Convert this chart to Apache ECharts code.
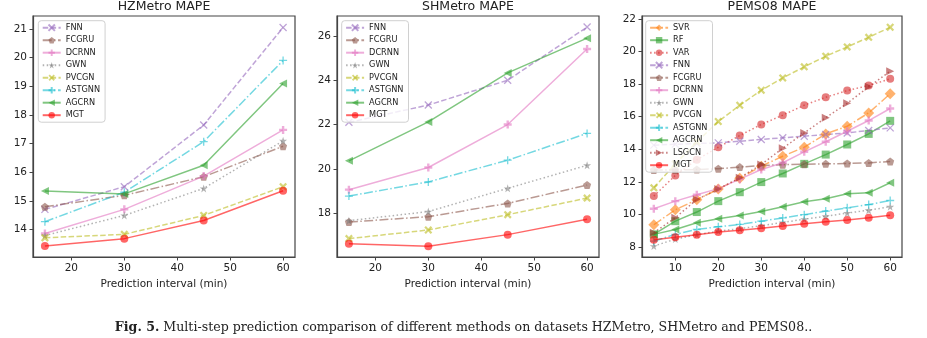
<!DOCTYPE html>
<html><head><meta charset="utf-8">
<script src="https://cdn.jsdelivr.net/npm/echarts@6/dist/echarts.min.js"></script>
<style>html,body{margin:0;padding:0;background:#fff}#c{width:927px;height:338px}</style>
</head><body><div id="c"></div>
<script>
// ---------- data ----------
const metroX = [15, 30, 45, 60];
const pemsX = [5, 10, 15, 20, 25, 30, 35, 40, 45, 50, 55, 60];
const metroTicksX = [20, 30, 40, 50, 60];
const pemsTicksX = [10, 20, 30, 40, 50, 60];
const hzTicksY = [14, 15, 16, 17, 18, 19, 20, 21];
const shTicksY = [18, 20, 22, 24, 26];
const pemsTicksY = [8, 10, 12, 14, 16, 18, 20, 22];
const panelTitles = ['HZMetro MAPE', 'SHMetro MAPE', 'PEMS08 MAPE'];
const xName = 'Prediction interval (min)';
const metroMethods = ['FNN', 'FCGRU', 'DCRNN', 'GWN', 'PVCGN', 'ASTGNN', 'AGCRN', 'MGT'];
const pemsMethods = ['SVR', 'RF', 'VAR', 'FNN', 'FCGRU', 'DCRNN', 'GWN', 'PVCGN', 'ASTGNN', 'AGCRN', 'LSGCN', 'MGT'];

const hzFNN    = [14.71, 15.50, 17.65, 21.05];
const hzFCGRU  = [14.80, 15.20, 15.85, 16.91];
const hzDCRNN  = [13.87, 14.71, 15.87, 17.48];
const hzGWN    = [13.80, 14.50, 15.44, 17.10];
const hzPVCGN  = [13.72, 13.84, 14.50, 15.50];
const hzASTGNN = [14.28, 15.31, 17.07, 19.90];
const hzAGCRN  = [15.35, 15.25, 16.25, 19.10];
const hzMGT    = [13.43, 13.69, 14.32, 15.36];

const shFNN    = [22.10, 22.88, 24.00, 26.40];
const shFCGRU  = [17.60, 17.84, 18.44, 19.27];
const shDCRNN  = [19.06, 20.06, 22.00, 25.41];
const shGWN    = [17.66, 18.07, 19.12, 20.16];
const shPVCGN  = [16.85, 17.24, 17.93, 18.68];
const shASTGNN = [18.77, 19.41, 20.39, 21.60];
const shAGCRN  = [20.36, 22.12, 24.33, 25.90];
const shMGT    = [16.62, 16.51, 17.03, 17.72];

const peSVR    = [9.36, 10.28, 10.90, 11.55, 12.22, 12.96, 13.57, 14.12, 14.94, 15.41, 16.23, 17.40];
const peRF     = [8.77, 9.58, 10.14, 10.81, 11.36, 11.98, 12.51, 13.10, 13.67, 14.29, 14.94, 15.74];
const peVAR    = [11.12, 12.39, 13.35, 14.12, 14.84, 15.52, 16.09, 16.70, 17.19, 17.60, 17.91, 18.32];
const peFNN    = [14.25, 14.30, 14.35, 14.39, 14.49, 14.60, 14.70, 14.80, 14.90, 15.00, 15.15, 15.31];
const peFCGRU  = [12.72, 12.72, 12.75, 12.80, 12.90, 13.00, 13.05, 13.08, 13.10, 13.12, 13.16, 13.25];
const peDCRNN  = [10.34, 10.81, 11.20, 11.58, 12.16, 12.75, 13.17, 13.84, 14.46, 15.10, 15.76, 16.50];
const peGWN    = [8.05, 8.48, 8.75, 8.97, 9.12, 9.30, 9.50, 9.70, 9.88, 10.08, 10.25, 10.47];
const pePVCGN  = [11.63, 13.10, 14.45, 15.70, 16.70, 17.62, 18.38, 19.06, 19.71, 20.28, 20.87, 21.49];
const peASTGNN = [8.35, 8.77, 9.07, 9.24, 9.38, 9.58, 9.78, 9.98, 10.20, 10.40, 10.60, 10.85];
const peAGCRN  = [8.77, 9.07, 9.48, 9.73, 9.93, 10.18, 10.47, 10.77, 10.96, 11.26, 11.32, 11.94];
const peLSGCN  = [8.87, 9.79, 10.91, 11.55, 12.25, 13.06, 14.06, 15.00, 15.93, 16.82, 17.83, 18.79];
const peMGT    = [8.44, 8.60, 8.75, 8.92, 9.03, 9.15, 9.28, 9.42, 9.55, 9.65, 9.79, 9.95];

const hzData = {FNN: hzFNN, FCGRU: hzFCGRU, DCRNN: hzDCRNN, GWN: hzGWN, PVCGN: hzPVCGN, ASTGNN: hzASTGNN, AGCRN: hzAGCRN, MGT: hzMGT};
const shData = {FNN: shFNN, FCGRU: shFCGRU, DCRNN: shDCRNN, GWN: shGWN, PVCGN: shPVCGN, ASTGNN: shASTGNN, AGCRN: shAGCRN, MGT: shMGT};
const peData = {SVR: peSVR, RF: peRF, VAR: peVAR, FNN: peFNN, FCGRU: peFCGRU, DCRNN: peDCRNN, GWN: peGWN, PVCGN: pePVCGN, ASTGNN: peASTGNN, AGCRN: peAGCRN, LSGCN: peLSGCN, MGT: peMGT};

// ---------- styles ----------
const F = 'DejaVu Sans';
const DASH = [5.5, 2.4], DOT = [1.5, 2.5], DASHDOT = [9, 2.4, 1.5, 2.4];
const P_X = 'path://M0,0L100,100M100,0L0,100';
const P_PLUS = 'path://M50,0L50,100M0,50L100,50';
const P_STAR = 'path://M100,0L122.45,69.1L195.1,69.1L136.3,111.8L158.8,180.9L100,138.2L41.2,180.9L63.7,111.8L4.9,69.1L77.55,69.1Z';
const P_PENT = 'path://M100,0L195.1,69.1L158.8,180.9L41.2,180.9L4.9,69.1Z';
const P_PFILL = 'path://M35,0L65,0L65,35L100,35L100,65L65,65L65,100L35,100L35,65L0,65L0,35L35,35Z';
const P_XFILL = 'path://M20,0L50,30L80,0L100,20L70,50L100,80L80,100L50,70L20,100L0,80L30,50L0,20Z';
const P_TLEFT = 'path://M0,50L100,0L100,100Z';
const P_TRIGHT = 'path://M100,50L0,0L0,100Z';
const ST = {
  SVR:    {c: '#ff7f0e', t: DASHDOT, s: 'diamond', z: 11},
  RF:     {c: '#2ca02c', t: 'solid', s: 'rect', z: 8},
  VAR:    {c: '#d62728', t: DOT, s: 'circle', z: 8},
  FNN:    {c: '#9467bd', t: DASH, s: P_X, z: 7, stroke: true},
  FCGRU:  {c: '#8c564b', t: DASHDOT, s: P_PENT, z: 8},
  DCRNN:  {c: '#e377c2', t: 'solid', s: P_PFILL, z: 8},
  GWN:    {c: '#7f7f7f', t: DOT, s: P_STAR, z: 8},
  PVCGN:  {c: '#bcbd22', t: DASH, s: P_XFILL, z: 8},
  ASTGNN: {c: '#17becf', t: DASHDOT, s: P_PLUS, z: 8, stroke: true},
  AGCRN:  {c: '#2ca02c', t: 'solid', s: P_TLEFT, z: 8},
  LSGCN:  {c: '#a52a2a', t: DOT, s: P_TRIGHT, z: 8},
  MGT:    {c: '#ff0000', t: 'solid', s: 'circle', z: 8}
};

// ---------- layout ----------
const grids = [
  {left: 33, top: 16, width: 262, height: 241},
  {left: 337, top: 16, width: 262, height: 241},
  {left: 642, top: 16, width: 260, height: 241}
];
const yRange = [[13.05, 21.45], [16.02, 26.9], [7.38, 22.18]];
const xRange = [[12.75, 62.25], [12.75, 62.25], [2.25, 62.75]];
const AX = '#444', TXT = '#222';

function xAx(gi, ticks) {
  return {type: 'value', gridIndex: gi, min: xRange[gi][0], max: xRange[gi][1],
    name: xName, nameLocation: 'middle', nameGap: 21,
    nameTextStyle: {fontFamily: F, fontSize: 10.5, color: TXT},
    axisLine: {show: true, onZero: false, lineStyle: {color: AX, width: 1.2}},
    axisTick: {show: true, customValues: ticks, length: 3.5, lineStyle: {color: AX, width: 1}},
    axisLabel: {customValues: ticks, fontFamily: F, fontSize: 10.5, color: TXT, margin: 6},
    splitLine: {show: false}};
}
function yAx(gi, ticks) {
  return {type: 'value', gridIndex: gi, min: yRange[gi][0], max: yRange[gi][1],
    axisLine: {show: true, onZero: false, lineStyle: {color: AX, width: 1.2}},
    axisTick: {show: true, customValues: ticks, length: 3.5, lineStyle: {color: AX, width: 1}},
    axisLabel: {customValues: ticks, fontFamily: F, fontSize: 10.5, color: TXT, margin: 6},
    splitLine: {show: false}};
}
function ser(name, gi, xs, ys) {
  const st = ST[name];
  return {type: 'line', name, xAxisIndex: gi, yAxisIndex: gi,
    data: xs.map((x, i) => [x, ys[i]]),
    symbol: st.s, symbolSize: st.z, showSymbol: true, animation: false,
    lineStyle: {color: st.c, width: 1.5, type: st.t, opacity: 0.6},
    itemStyle: {color: st.c, opacity: 0.6, borderColor: st.c, borderWidth: st.stroke ? 1.3 : 0},
    emphasis: {disabled: true}};
}
function leg(left, names) {
  return {orient: 'vertical', left, top: 20.7, data: names,
    itemWidth: 18, itemHeight: 8, itemGap: 2.5, padding: [2, 5, 2, 3.4],
    borderColor: '#d0d0d0', borderWidth: 1, borderRadius: 3,
    backgroundColor: 'rgba(255,255,255,0.8)', selectedMode: false,
    textStyle: {fontFamily: F, fontSize: 8.2, color: TXT, lineHeight: 10}};
}

const series = [];
metroMethods.forEach(m => series.push(ser(m, 0, metroX, hzData[m])));
metroMethods.forEach(m => series.push(ser(m, 1, metroX, shData[m])));
pemsMethods.forEach(m => series.push(ser(m, 2, pemsX, peData[m])));

const CAP_F = 'DejaVu Serif';
const option = {
  backgroundColor: '#fff',
  animation: false,
  title: grids.map((g, i) => ({text: panelTitles[i], left: g.left + g.width / 2, top: 0, padding: 0,
    textAlign: 'center', textStyle: {fontFamily: F, fontSize: 12.5, fontWeight: 'normal', color: TXT}})),
  grid: grids.map(g => Object.assign({show: true, borderColor: AX, borderWidth: 1.2, backgroundColor: 'transparent'}, g)),
  xAxis: [xAx(0, metroTicksX), xAx(1, metroTicksX), xAx(2, pemsTicksX)],
  yAxis: [yAx(0, hzTicksY), yAx(1, shTicksY), yAx(2, pemsTicksY)],
  legend: [leg(38.3, metroMethods), leg(341.7, metroMethods), leg(645.7, pemsMethods)],
  series,
  graphic: [{type: 'text', left: 'center', top: 321,
    style: {text: '{b|Fig. 5.} Multi-step prediction comparison of different methods on datasets HZMetro, SHMetro and PEMS08..',
      fontFamily: CAP_F, fontSize: 12.6, fill: '#222',
      rich: {b: {fontWeight: 'bold', fontFamily: CAP_F, fontSize: 12.6, fill: '#222'}}}}]
};
const chart = echarts.init(document.getElementById('c'), null, {renderer: 'canvas'});
chart.setOption(option);
</script></body></html>
